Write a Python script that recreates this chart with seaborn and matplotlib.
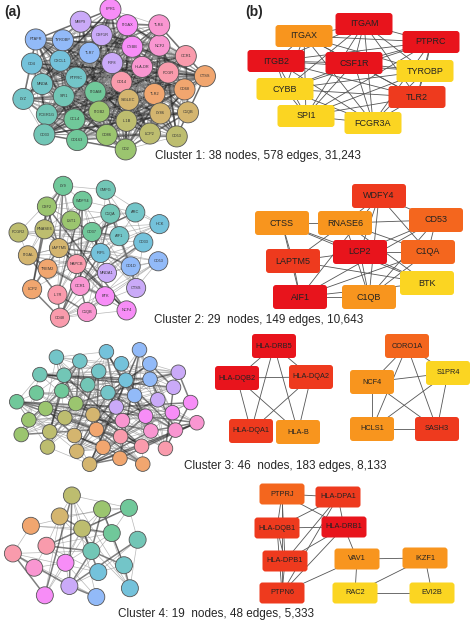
import numpy as np
import pandas as pd
import seaborn as sns
import matplotlib
matplotlib.use("Agg")
import matplotlib.pyplot as plt
from matplotlib.patches import FancyBboxPatch
from itertools import combinations

sns.set_theme(style="white")
plt.rcParams['font.family'] = ['Liberation Sans', 'DejaVu Sans']

# ---------------- data ----------------
captions = ["Cluster 1: 38 nodes, 578 edges, 31,243",
            "Cluster 2: 29  nodes, 149 edges, 10,643",
            "Cluster 3: 46  nodes, 183 edges, 8,133",
            "Cluster 4: 19  nodes, 48 edges, 5,333"]
node_counts = [38, 29, 46, 19]
cluster1_names = ["CD14","ITGAM","IRF8","SIGLEC","PTPRC","HLA-DR","ITGB2","TLR7","TLR2","SPI1","CYBB","IL1B",
                  "CXCL1","FCGR","CCL4","CSF1R","LY86","MNDA","NCF2","CD86","TYROBP","CD68","FCER1G","ITGAX",
                  "LCP2","CD4","CCR1","CD163","MMP9","C1QB","LYZ","TLR4","CD2","PTAFR","CTSS","CD33","FPR1","CD53"]
cluster2_names = ["IRF5","NAPCB","CD37","MNDA1","LAPTM5","AIF1","CCR1","LST1","CD1D","TREM2","C1QA","BTK",
                  "RNASE6","CD33","IL7R","WDFY4","CTSS","ITGAL","ARC","C1QB","CSF2","CD53","LCP2","GMFG",
                  "NCF4","FCGR2","HCK","CD48","LY9"]
b_names = [
    ["ITGAX","ITGAM","PTPRC","ITGB2","CSF1R","TYROBP","CYBB","TLR2","SPI1","FCGR3A"],
    ["WDFY4","CTSS","RNASE6","CD53","LAPTM5","LCP2","C1QA","BTK","AIF1","C1QB"],
    ["HLA-DRB5","HLA-DQB2","HLA-DQA2","HLA-DQA1","HLA-B","CORO1A","NCF4","S1PR4","HCLS1","SASH3"],
    ["PTPRJ","HLA-DPA1","HLA-DQB1","HLA-DRB1","HLA-DPB1","VAV1","IKZF1","PTPN6","RAC2","EVI2B"],
]
# layout of hub boxes (pixel coords)
b_x = [[304,364,431,276,354,425,285,417,306,373],
       [379,282,345,436,293,360,428,427,300,369],
       [274,237,311,251,298,407,372,448,372,437],
       [282,338,277,344,285,357,425,282,355,432]]
b_y = [[36,24,42,61,63,71,89,97,116,123],
       [196,223,223,220,261,252,252,283,297,297],
       [346,378,377,431,432,346,382,373,429,429],
       [494,497,528,527,561,559,558,593,593,593]]
# score level: 0 red .. 4 yellow
b_lvl = [[3,0,0,0,0,4,4,1,4,4],
         [1,3,3,2,1,0,2,4,0,3],
         [0,0,1,1,3,2,3,4,3,1],
         [2,1,1,0,1,3,3,1,4,4]]
b_size = [(57, 22), (54, 24), (44, 24), (45, 21)]
b_font = [6.5, 6.5, 5.3, 5.3]
b_edges = [
    list(combinations(range(10), 2)),
    [(a, b) for a, b in combinations(range(10), 2) if (a + b) % 3 != 1],
    [(0,1),(0,2),(0,3),(0,4),(1,2),(1,3),(1,4),(2,3),(2,4)] +
    [(5,6),(5,7),(5,9),(6,8),(6,9),(6,7),(8,9),(7,9),(5,8),(7,8)],
    [(0,1),(0,2),(0,3),(0,4),(0,7),(1,2),(1,3),(1,4),(1,7),(2,3),(2,4),(2,7),(3,4),(3,7),
     (4,7),(3,5),(7,5),(5,6),(5,8),(8,9),(6,9),(6,8)],
]
level_colors = ["#e8141c", "#ee3a1e", "#f4661e", "#f8951e", "#fbd522"]

# panel a cluster geometry (center x, center y, rx, ry)
a_geom = [(110, 82, 100, 74), (90, 253, 80, 72), (106, 407, 98, 62), (80, 551, 70, 62)]
a_size = [230, 190, 110, 150]
a_dens = [1.6, 0.5, 0.35, 0.5]
cap_xy = [(155, 156), (154, 320), (184, 466), (118, 614)]

# ---------------- figure ----------------
fig = plt.figure(figsize=(4.74, 6.23), dpi=100)
ax = fig.add_axes([0, 0, 1, 1])

frames = []
for c, (n, (cx, cy, rx, ry)) in enumerate(zip(node_counts, a_geom)):
    k = np.arange(n)
    r = np.sqrt((k + 0.5) / n)
    th = k * 2.39996
    xs = cx + rx * r * np.cos(th)
    ys = cy + ry * r * np.sin(th)
    for i in range(n):
        for j in range(i + 1, n):
            d = np.hypot(xs[i] - xs[j], ys[i] - ys[j])
            if ((i * 37 + j * 53) % 100) / 100 < a_dens[c] * np.exp(-d / (rx * 0.9)) * 1.6:
                heavy = (i + 2 * j) % (3 if c == 0 else 4) == 0
                ax.plot([xs[i], xs[j]], [ys[i], ys[j]], color="#2a2a2a" if heavy else "#888",
                        lw=1.1 if heavy else 0.5, alpha=0.6, zorder=1)
    names = cluster1_names if c == 0 else cluster2_names if c == 1 else None
    frames.append(pd.DataFrame(dict(x=xs, y=ys, cluster=c,
                                    name=[names[i % len(names)] if names else "" for i in range(n)])))
df = pd.concat(frames, ignore_index=True)
pal = sns.color_palette("husl", 13)
pal = [tuple(0.3 + 0.7 * np.array(p)) for p in pal]
df["hue"] = [str((i * 5) % 13) for i in range(len(df))]
for c in range(4):
    sub = df[df.cluster == c]
    sns.scatterplot(data=sub, x="x", y="y", hue="hue", palette=pal, hue_order=[str(i) for i in range(13)],
                    s=a_size[c], edgecolor="#555", linewidth=0.6, legend=False, ax=ax, zorder=2)
for _, r in df.iterrows():
    if r["name"]:
        ax.text(r.x, r.y, r["name"], fontsize=2.8, ha="center", va="center", zorder=3, color="#333")

for (x, y), t in zip(cap_xy, captions):
    ax.text(x, y, t, fontsize=8.5, va="center", ha="left", zorder=4,
            bbox=dict(fc="white", ec="none", pad=0.5))

# panel b
for c in range(4):
    xs, ys = b_x[c], b_y[c]
    W, H = b_size[c]
    for a, b in b_edges[c]:
        ax.plot([xs[a], xs[b]], [ys[a], ys[b]], color="#555", lw=0.6, zorder=1)
    for i, name in enumerate(b_names[c]):
        ax.add_patch(FancyBboxPatch((xs[i] - W / 2, ys[i] - H / 2), W, H,
                                    boxstyle="round,pad=0,rounding_size=3",
                                    fc=level_colors[b_lvl[c][i]], ec="none", zorder=2))
        ax.text(xs[i], ys[i], name, fontsize=b_font[c], ha="center", va="center", zorder=3, color="#222")

ax.text(4, 12, "(a)", fontsize=10, fontweight="bold", va="center")
ax.text(245, 12, "(b)", fontsize=10, fontweight="bold", va="center")

ax.set_xlim(0, 474); ax.set_ylim(623, 0); ax.axis("off")
ax.set_xlabel(""); ax.set_ylabel("")
fig.savefig("out.png", dpi=100)
